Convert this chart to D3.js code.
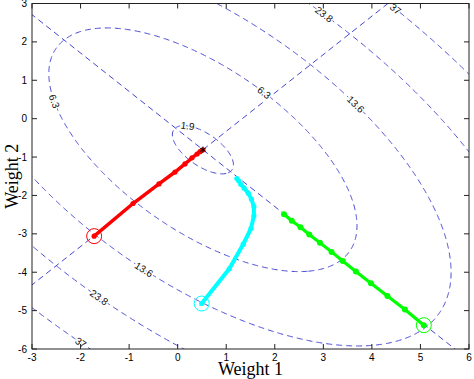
<!DOCTYPE html>
<html><head><meta charset="utf-8">
<script src="https://cdn.jsdelivr.net/npm/d3@7"></script>
<style>body{margin:0;background:#fff} svg{display:block}</style>
</head><body>
<svg id="c" width="474" height="379"></svg>
<script>
// ---- data ----
const xTicks = [-3,-2,-1,0,1,2,3,4,5,6];
const yTicks = [-6,-5,-4,-3,-2,-1,0,1,2,3];
const contourLevels = [1.9, 6.3, 13.6, 23.8, 37];
const surfaceCenter = [0.52, -0.81];
const surfaceMin = 1.72;
const surfaceCurv = [0.28, 1.21];   // curvature along (1,-1) and (1,1) directions
const axisSlopes = [1, -1];
// [level, approx x, approx y]
const labelSpots = [
  [1.9, 0.21, -0.16],
  [6.3, -2.55, 0.45],
  [6.3, 1.78, 0.68],
  [13.6, 3.65, 0.36],
  [13.6, -0.71, -3.95],
  [23.8, 3.01, 2.71],
  [23.8, -1.64, -4.68],
  [37, 4.47, 2.84],
  [37, -2.01, -5.85]
];
const redPath = [[-1.72,-3.06],[-0.92,-2.21],[-0.385,-1.70],[-0.055,-1.39],[0.15,-1.18],[0.295,-1.02],[0.40,-0.92],[0.46,-0.86],[0.52,-0.81]];
const cyanPath = [[0.495,-4.815],[1.063,-3.91],[1.35,-3.27],[1.51,-2.86],[1.57,-2.53],[1.57,-2.29],[1.52,-2.10],[1.455,-1.94],[1.37,-1.81],[1.30,-1.71],[1.257,-1.62],[1.22,-1.56]];
const greenPath = [[5.07,-5.38],[4.68,-4.97],[4.32,-4.62],[3.98,-4.29],[3.67,-3.98],[3.40,-3.71],[3.17,-3.47],[2.93,-3.23],[2.71,-3.02],[2.53,-2.83],[2.35,-2.66],[2.19,-2.49]];
const xLabel = "Weight 1", yLabel = "Weight 2";

// ---- layout ----
const svg = d3.select("#c");
const L = 32, R = 469, T = 3.5, B = 349;
const xs = d3.scaleLinear().domain([-3, 6]).range([L, R]);
const ys = d3.scaleLinear().domain([-6, 3]).range([B, T]);
const S2 = Math.SQRT2;
function f(x, y) {
  const dx = x - surfaceCenter[0], dy = y - surfaceCenter[1];
  const u = (dx - dy) / S2, v = (dx + dy) / S2;
  return surfaceMin + surfaceCurv[0]*u*u + surfaceCurv[1]*v*v;
}
function grad(x, y) {
  const dx = x - surfaceCenter[0], dy = y - surfaceCenter[1];
  const u = (dx - dy) / S2, v = (dx + dy) / S2;
  const fu = 2*surfaceCurv[0]*u, fv = 2*surfaceCurv[1]*v;
  return [(fu + fv)/S2, (-fu + fv)/S2];
}

const defs = svg.append("defs");
defs.append("clipPath").attr("id","pc").append("rect")
  .attr("x", L).attr("y", T).attr("width", R-L).attr("height", B-T);
const plot = svg.append("g").attr("clip-path","url(#pc)");

// contours
const gx0 = -4, gx1 = 7, gy0 = -7, gy1 = 4, step = 0.025;
const n = Math.round((gx1-gx0)/step)+1, m = Math.round((gy1-gy0)/step)+1;
const vals = new Float64Array(n*m);
for (let j=0;j<m;j++) for (let i=0;i<n;i++) vals[j*n+i] = f(gx0+i*step, gy1-j*step);
const cs = d3.contours().size([n,m]).thresholds(contourLevels)(vals);
const proj = d3.geoTransform({point(x,y){ this.stream.point(xs(gx0+(x-0.5)*step), ys(gy1-(y-0.5)*step)); }});
const gp = d3.geoPath(proj);
const dashCol = "#4545d2";
plot.selectAll("path.ct").data(cs).join("path").attr("class","ct")
  .attr("d", gp).attr("fill","none").attr("stroke",dashCol)
  .attr("stroke-width",1).attr("stroke-dasharray","6,4");

// principal axes
axisSlopes.forEach(s => {
  const x1 = -4, x2 = 7;
  plot.append("line")
    .attr("x1", xs(x1)).attr("y1", ys(surfaceCenter[1] + s*(x1-surfaceCenter[0])))
    .attr("x2", xs(x2)).attr("y2", ys(surfaceCenter[1] + s*(x2-surfaceCenter[0])))
    .attr("stroke", dashCol).attr("stroke-width",1).attr("stroke-dasharray","6,4");
});

// contour labels
labelSpots.forEach(([lv, x0, y0]) => {
  let x = x0, y = y0;
  for (let k=0;k<8;k++){ const g = grad(x,y); const g2 = g[0]*g[0]+g[1]*g[1]; const d = (lv - f(x,y))/g2; x += d*g[0]; y += d*g[1]; }
  const g = grad(x,y);
  const kx = (R-L)/9, ky = (B-T)/9;
  let ang = Math.atan2(-g[0]*ky, -g[1]*kx) * 180/Math.PI;
  if (ang > 90) ang -= 180; if (ang < -90) ang += 180;
  plot.append("text").attr("transform", `translate(${xs(x)},${ys(y)}) rotate(${ang})`)
    .attr("text-anchor","middle").attr("dy","0.35em")
    .attr("font-family","'Liberation Sans', Arial, sans-serif").attr("font-size",10)
    .attr("fill","#111").attr("stroke","#fff").attr("stroke-width",3)
    .attr("paint-order","stroke").text(String(lv));
});

// trajectories
const line = d3.line().x(d=>xs(d[0])).y(d=>ys(d[1]));
function traj(data, col, w, r) {
  const g = plot.append("g");
  g.append("path").attr("d", line(data)).attr("fill","none").attr("stroke",col).attr("stroke-width",w);
  g.selectAll("circle.dot").data(data).join("circle").attr("class","dot")
    .attr("cx",d=>xs(d[0])).attr("cy",d=>ys(d[1])).attr("r",r).attr("fill",col);
  g.append("circle").attr("cx",xs(data[0][0])).attr("cy",ys(data[0][1])).attr("r",7.5)
    .attr("fill","none").attr("stroke",col).attr("stroke-width",1);
}
traj(redPath, "#ff0000", 3.5, 2.6);
traj(cyanPath, "#00ffff", 4, 2.6);
traj(greenPath, "#00ff00", 3.2, 3);
const last = redPath[redPath.length-1];
plot.append("path").attr("d", d3.symbol(d3.symbolAsterisk, 28)())
  .attr("transform",`translate(${xs(last[0])},${ys(last[1])})`)
  .attr("fill","none").attr("stroke","#000").attr("stroke-width",1);

// frame & ticks
const axCol = "#222";
svg.append("rect").attr("x",L).attr("y",T).attr("width",R-L).attr("height",B-T)
  .attr("fill","none").attr("stroke",axCol).attr("stroke-width",1);
const tl = 5;
const font = "'Liberation Sans', Arial, sans-serif";
xTicks.forEach(t => {
  const x = xs(t);
  svg.append("line").attr("x1",x).attr("x2",x).attr("y1",B).attr("y2",B-tl).attr("stroke",axCol);
  svg.append("line").attr("x1",x).attr("x2",x).attr("y1",T).attr("y2",T+tl).attr("stroke",axCol);
  svg.append("text").attr("x",x).attr("y",B+12).attr("text-anchor","middle")
    .attr("font-family",font).attr("font-size",10).attr("fill","#000").text(t);
});
yTicks.forEach(t => {
  const y = ys(t);
  svg.append("line").attr("x1",L).attr("x2",L+tl).attr("y1",y).attr("y2",y).attr("stroke",axCol);
  svg.append("line").attr("x1",R).attr("x2",R-tl).attr("y1",y).attr("y2",y).attr("stroke",axCol);
  svg.append("text").attr("x",L-5).attr("y",y).attr("dy","0.35em").attr("text-anchor","end")
    .attr("font-family",font).attr("font-size",10).attr("fill","#000").text(t);
});
svg.append("text").attr("x",(L+R)/2).attr("y",375).attr("text-anchor","middle")
  .attr("font-family","'Liberation Serif','Times New Roman',serif").attr("font-size",18).attr("fill","#000").text(xLabel);
svg.append("text").attr("transform",`translate(18,${(T+B)/2}) rotate(-90)`).attr("text-anchor","middle")
  .attr("font-family","'Liberation Serif','Times New Roman',serif").attr("font-size",18).attr("fill","#000").text(yLabel);
</script>
</body></html>
